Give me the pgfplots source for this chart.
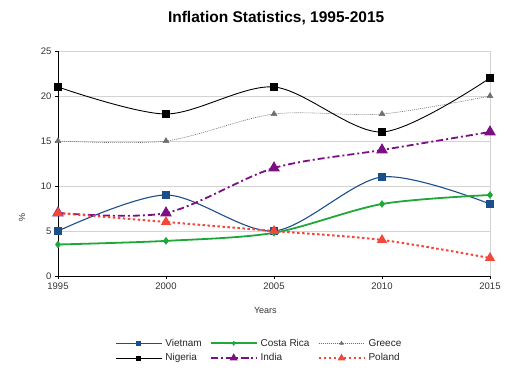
\documentclass[border=0pt]{standalone}
\usepackage{pgfplots}
\pgfplotsset{compat=1.18}
\usepackage{fontspec}
\setmainfont{Liberation Sans}
\newfontfamily\titlefont{Liberation Sans}
\definecolor{cviet}{HTML}{1B4F8A}
\definecolor{ccr}{HTML}{1FA83A}
\definecolor{cgr}{HTML}{6E6E6E}
\definecolor{cin}{HTML}{7B0F83}
\definecolor{cpl}{HTML}{F2473A}
\definecolor{cgrid}{HTML}{D3D3D3}
\begin{document}
\begin{tikzpicture}
\useasboundingbox (-58pt,-95pt) rectangle (454pt,276pt);
\begin{axis}[
  at={(0,0)}, anchor=south west,
  scale only axis, width=432pt, height=225pt,
  xmin=1995, xmax=2015, ymin=0, ymax=25,
  xtick={1995,2000,2005,2010,2015},
  ytick={0,5,10,15,20,25},
  xticklabel style={/pgf/number format/1000 sep={}},
  /pgf/number format/assume math mode=true,
  tick label style={font=\fontsize{9.5}{11}\selectfont, text=black!80},
  axis x line=bottom, axis y line=left,
  axis line style={-, black, line width=0.8pt},
  tick align=outside, major tick length=3pt,
  tick style={black, line width=0.6pt},
  ymajorgrids, major grid style={cgrid, line width=0.6pt},
  clip=false,
  title={\titlefont\bfseries\fontsize{15.5}{18}\selectfont Inflation Statistics, 1995-2015},
  title style={at={(axis description cs:0.505,1)}, anchor=south, yshift=20pt, inner sep=0pt},
  xlabel={Years}, ylabel={\%},
  label style={font=\fontsize{9}{10}\selectfont, text=black!80},
  xlabel style={at={(axis description cs:0.48,-0.151)}, anchor=center},
  ylabel style={at={(axis description cs:-0.083,0.258)}, anchor=center},
  legend columns=3,
  legend cell align=left,
  legend style={at={(axis description cs:0.132,-0.27)}, anchor=north west, draw=none, fill=none, inner sep=0pt,
    font=\fontsize{10}{11}\selectfont, row sep=2pt, text=black!85,
    /tikz/every odd column/.append style={column sep=1pt},
    /tikz/every even column/.append style={column sep=6pt}},
  legend image code/.code={\draw[mark repeat=2, mark phase=2, #1, every mark/.append style={scale=0.6}] plot coordinates {(0pt,0pt) (23pt,0pt) (46pt,0pt)};},
]
\draw[cgrid, line width=0.6pt] (rel axis cs:1,0) -- (rel axis cs:1,1);
\addplot[cviet, line width=1.1pt, smooth, mark=square*, mark size=3.3pt, mark options={solid, fill=cviet}] coordinates {(1995,5) (2000,9) (2005,5) (2010,11) (2015,8)};
\addlegendentry{Vietnam}
\addplot[ccr, line width=1.8pt, smooth, mark=diamond*, mark size=3.4pt, mark options={solid, line width=0.6pt, fill=ccr}] coordinates {(1995,3.5) (2000,3.9) (2005,4.8) (2010,8) (2015,9)};
\addlegendentry{Costa Rica}
\addplot[cgr, line width=0.6pt, smooth, dash pattern=on 1pt off 1pt, mark=triangle*, mark size=3.3pt, mark options={solid, fill=cgr}] coordinates {(1995,15) (2000,15) (2005,18) (2010,18) (2015,20)};
\addlegendentry{Greece}
\addplot[black, line width=0.9pt, smooth, mark=square*, mark size=3.5pt, mark options={solid, fill=black}] coordinates {(1995,21) (2000,18) (2005,21) (2010,16) (2015,22)};
\addlegendentry{Nigeria}
\addplot[cin, line width=1.8pt, smooth, dash pattern=on 7pt off 3pt on 2pt off 3pt, mark=triangle*, mark size=5pt, mark options={solid, fill=cin}] coordinates {(1995,7) (2000,7) (2005,12) (2010,14) (2015,16)};
\addlegendentry{India}
\addplot[cpl, line width=2pt, smooth, dash pattern=on 2.5pt off 2.5pt, mark=triangle*, mark size=4pt, mark options={solid, fill=cpl}] coordinates {(1995,7) (2000,6) (2005,5) (2010,4) (2015,2)};
\addlegendentry{Poland}
\end{axis}
\end{tikzpicture}
\end{document}
